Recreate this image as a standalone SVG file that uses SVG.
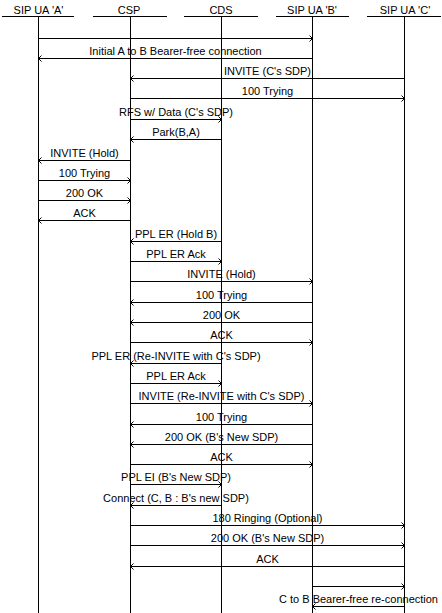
<svg xmlns="http://www.w3.org/2000/svg" width="442" height="613" viewBox="0 0 442 613">
<style>
  .ln{stroke:#000;stroke-width:1;fill:none;shape-rendering:crispEdges}
  .msg{stroke:#000;stroke-width:1;fill:none;marker-end:url(#ah)}
  text{font-family:"Liberation Sans",Arial,sans-serif;font-size:11px;fill:#000;text-anchor:middle}
</style>
<defs>
  <marker id="ah" viewBox="0 0 8 8" refX="4" refY="4" markerWidth="8" markerHeight="8" markerUnits="userSpaceOnUse" orient="auto" overflow="visible">
    <path d="M1,1 L4,4 L1,7" stroke="#000" stroke-width="1" fill="none"/>
  </marker>
</defs>
<rect width="442" height="613" fill="#fff"/>
<g id="node-A"><line class="ln" x1="2" y1="16.5" x2="74" y2="16.5"/><line class="ln" x1="38.5" y1="16.5" x2="38.5" y2="613"/><text x="38.5" y="14">SIP UA 'A'</text></g>
<g id="node-CSP"><line class="ln" x1="93" y1="16.5" x2="167" y2="16.5"/><line class="ln" x1="130.5" y1="16.5" x2="130.5" y2="613"/><text x="129" y="14">CSP</text></g>
<g id="node-CDS"><line class="ln" x1="184" y1="16.5" x2="258" y2="16.5"/><line class="ln" x1="221.5" y1="16.5" x2="221.5" y2="613"/><text x="221" y="14">CDS</text></g>
<g id="node-B"><line class="ln" x1="276" y1="16.5" x2="349" y2="16.5"/><line class="ln" x1="312.5" y1="16.5" x2="312.5" y2="613"/><text x="312" y="14">SIP UA 'B'</text></g>
<g id="node-C"><line class="ln" x1="367" y1="16.5" x2="441" y2="16.5"/><line class="ln" x1="404.5" y1="16.5" x2="404.5" y2="613"/><text x="405" y="14">SIP UA 'C'</text></g>
<g id="connectors">
  <line class="msg" x1="38.5" y1="38.5" x2="312.5" y2="38.5"/>
  <line class="msg" x1="312.5" y1="58.5" x2="38.5" y2="58.5"/><text x="175.5" y="54.5">Initial A to B Bearer-free connection</text>
  <line class="msg" x1="404.5" y1="78.5" x2="130.5" y2="78.5"/><text x="267.5" y="74.5">INVITE (C's SDP)</text>
  <line class="msg" x1="130.5" y1="98.5" x2="404.5" y2="98.5"/><text x="267.5" y="94.5">100 Trying</text>
  <line class="msg" x1="130.5" y1="119.5" x2="221.5" y2="119.5"/><text x="176" y="115.5">RFS w/ Data (C's SDP)</text>
  <line class="msg" x1="221.5" y1="139.5" x2="130.5" y2="139.5"/><text x="176" y="135.5">Park(B,A)</text>
  <line class="msg" x1="130.5" y1="160.5" x2="38.5" y2="160.5"/><text x="84.5" y="156.5">INVITE (Hold)</text>
  <line class="msg" x1="38.5" y1="180.5" x2="130.5" y2="180.5"/><text x="84.5" y="176.5">100 Trying</text>
  <line class="msg" x1="38.5" y1="200.5" x2="130.5" y2="200.5"/><text x="84.5" y="196.5">200 OK</text>
  <line class="msg" x1="130.5" y1="220.5" x2="38.5" y2="220.5"/><text x="84.5" y="216.5">ACK</text>
  <line class="msg" x1="221.5" y1="241.5" x2="130.5" y2="241.5"/><text x="176" y="237.5">PPL ER (Hold B)</text>
  <line class="msg" x1="130.5" y1="261.5" x2="221.5" y2="261.5"/><text x="176" y="257.5">PPL ER Ack</text>
  <line class="msg" x1="130.5" y1="281.5" x2="312.5" y2="281.5"/><text x="221.5" y="277.5">INVITE (Hold)</text>
  <line class="msg" x1="312.5" y1="302.5" x2="130.5" y2="302.5"/><text x="221.5" y="298.5">100 Trying</text>
  <line class="msg" x1="312.5" y1="322.5" x2="130.5" y2="322.5"/><text x="221.5" y="318.5">200 OK</text>
  <line class="msg" x1="130.5" y1="342.5" x2="312.5" y2="342.5"/><text x="221.5" y="338.5">ACK</text>
  <line class="msg" x1="221.5" y1="363.5" x2="130.5" y2="363.5"/><text x="176" y="359.5">PPL ER (Re-INVITE with C's SDP)</text>
  <line class="msg" x1="130.5" y1="383.5" x2="221.5" y2="383.5"/><text x="176" y="379.5">PPL ER Ack</text>
  <line class="msg" x1="130.5" y1="403.5" x2="312.5" y2="403.5"/><text x="221.5" y="399.5">INVITE (Re-INVITE with C's SDP)</text>
  <line class="msg" x1="312.5" y1="424.5" x2="130.5" y2="424.5"/><text x="221.5" y="420.5">100 Trying</text>
  <line class="msg" x1="312.5" y1="444.5" x2="130.5" y2="444.5"/><text x="221.5" y="440.5">200 OK (B's New SDP)</text>
  <line class="msg" x1="130.5" y1="464.5" x2="312.5" y2="464.5"/><text x="221.5" y="460.5">ACK</text>
  <line class="msg" x1="130.5" y1="484.5" x2="221.5" y2="484.5"/><text x="176" y="480.5">PPL EI (B's New SDP)</text>
  <line class="msg" x1="221.5" y1="505.5" x2="130.5" y2="505.5"/><text x="176" y="501.5">Connect (C, B : B's new SDP)</text>
  <line class="msg" x1="130.5" y1="525.5" x2="404.5" y2="525.5"/><text x="267.5" y="521.5">180 Ringing (Optional)</text>
  <line class="msg" x1="130.5" y1="545.5" x2="404.5" y2="545.5"/><text x="267.5" y="541.5">200 OK (B's New SDP)</text>
  <line class="msg" x1="404.5" y1="566.5" x2="130.5" y2="566.5"/><text x="267.5" y="562.5">ACK</text>
  <line class="msg" x1="312.5" y1="586.5" x2="404.5" y2="586.5"/>
  <line class="msg" x1="404.5" y1="606.5" x2="312.5" y2="606.5"/><text x="358.5" y="602.5">C to B Bearer-free re-connection</text>
</g>
</svg>
